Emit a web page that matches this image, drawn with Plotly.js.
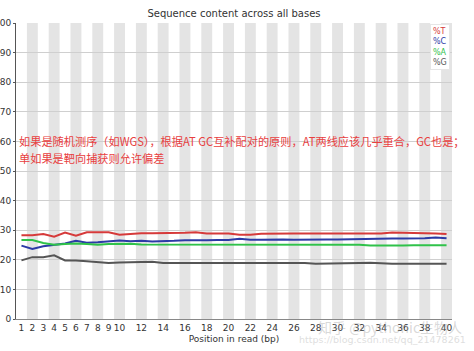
<!DOCTYPE html>
<html><head><meta charset="utf-8">
<script src="https://cdn.plot.ly/plotly-3.0.1.min.js"></script>
<style>html,body{margin:0;padding:0;background:#fff}#chart{width:474px;height:351px}</style>
</head><body><div id="chart"></div>
<script>
const positions = [1,2,3,4,5,6,7,8,9,10,11,12,13,14,15,16,17,18,19,20,21,22,23,24,25,26,27,28,29,30,31,32,33,34,35,36,37,38,39,40];
const tickLabels = [1,2,3,4,5,6,7,8,9,10,12,14,16,18,20,22,24,26,28,30,32,34,36,38,40];
const pctT = [28.3,28.3,28.7,27.8,29.2,28.1,29.3,29.3,29.3,28.5,28.8,29.0,29.0,29.0,29.0,29.1,29.3,28.9,28.9,28.9,28.5,28.5,28.8,28.9,28.9,28.9,28.9,28.9,28.9,28.8,28.8,28.7,28.7,28.9,29.2,29.2,29.0,29.0,28.9,28.7];
const pctC = [24.8,23.7,24.6,25.1,25.5,26.4,25.8,25.9,26.3,26.5,26.3,26.4,26.2,26.2,26.4,26.6,26.5,26.6,26.7,26.7,27.1,26.8,26.8,26.9,26.9,26.8,26.9,26.9,26.9,26.9,27.0,26.9,27.0,27.1,27.2,27.2,27.2,27.3,27.5,27.3];
const pctA = [26.7,26.7,25.7,25.1,25.3,25.5,25.3,25.1,25.3,25.4,25.4,25.2,25.2,25.3,25.3,25.2,25.2,25.2,25.2,25.3,25.2,25.2,25.1,25.1,25.1,25.1,25.1,25.1,25.2,25.1,25.1,25.1,24.8,24.8,24.6,24.8,24.9,24.9,24.9,24.9];
const pctG = [19.8,20.9,20.9,21.5,19.8,19.8,19.5,19.3,18.9,19.1,19.1,19.3,19.3,18.9,18.9,18.9,18.9,18.9,18.9,18.9,18.9,18.9,19.0,19.0,18.9,18.9,18.9,18.7,18.7,18.9,18.9,18.9,19.0,18.8,18.7,18.7,18.7,18.5,18.7,18.7];
const seriesNames = ['%T','%C','%A','%G'];
const seriesColors = ['#d63a3a','#2b3aa6','#2fc24a','#555555'];
const noteLines = ['如果是随机测序（如WGS），根据AT GC互补配对的原则，AT两线应该几乎重合，GC也是；','单如果是靶向捕获则允许偏差'];

const font = 'DejaVu Sans, Liberation Sans, sans-serif';
const cjk = 'Noto Sans CJK SC, sans-serif';
const values = [pctT, pctC, pctA, pctG];
const traces = values.map((v, k) => ({
  x: positions, y: v, type: 'scatter', mode: 'lines', name: seriesNames[k],
  line: {color: seriesColors[k], width: 2}, showlegend: false, hoverinfo: 'skip'
}));

const shapes = positions.filter(p => p % 2 === 0).map(p => ({
  type: 'rect', xref: 'x', yref: 'paper', x0: p - 0.5, x1: p + 0.5, y0: 0, y1: 1,
  fillcolor: '#e4e4e4', line: {width: 0}, layer: 'below'
}));

const legendText = seriesNames.map((n, k) => `<span style="color:${seriesColors[k]}">${n}</span>`).join('<br>');

const layout = {
  width: 474, height: 351,
  margin: {l: 16, r: 22, t: 23, b: 32},
  paper_bgcolor: '#fff', plot_bgcolor: '#fff',
  title: {text: 'Sequence content across all bases', font: {family: font, size: 10, color: '#333'}, x: 0.5, xref: 'paper', y: 1, yref: 'container', yanchor: 'top', pad: {t: 10}},
  xaxis: {
    range: [0.5, 40.5], tickmode: 'array', tickvals: tickLabels, ticktext: tickLabels.map(String),
    showgrid: false, zeroline: false, showline: true, linecolor: '#888', linewidth: 1,
    ticks: '', tickfont: {family: font, size: 9, color: '#333'},
    title: {text: 'Position in read (bp)', font: {family: font, size: 9, color: '#333'}, standoff: 3}
  },
  yaxis: {
    range: [0, 100], tickvals: [0,10,20,30,40,50,60,70,80,90,100],
    showgrid: true, gridcolor: '#cfcfcf', gridwidth: 1, zeroline: false,
    showline: true, linecolor: '#555', linewidth: 1, ticks: 'outside', ticklen: 2, tickcolor: '#555',
    tickfont: {family: font, size: 9, color: '#333'}, layer: 'above traces'
  },
  shapes: shapes,
  annotations: [
    {xref: 'paper', yref: 'paper', x: 0.995, y: 0.995, xanchor: 'right', yanchor: 'top', align: 'left',
     text: legendText, showarrow: false, font: {family: font, size: 8}, bgcolor: '#fff', bordercolor: '#e6e6e6', borderwidth: 1, borderpad: 2},
    {xref: 'x', yref: 'y', x: 0.6, y: 60, xanchor: 'left', yanchor: 'middle', text: noteLines[0], showarrow: false,
     font: {family: cjk, size: 11.2, color: '#e8403f'}},
    {xref: 'x', yref: 'y', x: 0.6, y: 54.3, xanchor: 'left', yanchor: 'middle', text: noteLines[1], showarrow: false,
     font: {family: cjk, size: 11.2, color: '#e8403f'}},
    {xref: 'paper', yref: 'paper', x: 0.858, y: -0.028, xanchor: 'center', yanchor: 'middle', text: '知乎 @pythonic生物人', showarrow: false,
     font: {family: cjk, size: 14, color: 'rgba(170,170,170,0.45)'}},
    {xref: 'paper', yref: 'paper', x: 0.84, y: -0.068, xanchor: 'center', yanchor: 'middle', text: 'https://blog.csdn.net/qq_21478261', showarrow: false,
     font: {family: font, size: 9.5, color: 'rgba(190,190,190,0.5)'}}
  ]
};
Plotly.newPlot('chart', traces, layout, {displayModeBar: false, staticPlot: true});
</script></body></html>
